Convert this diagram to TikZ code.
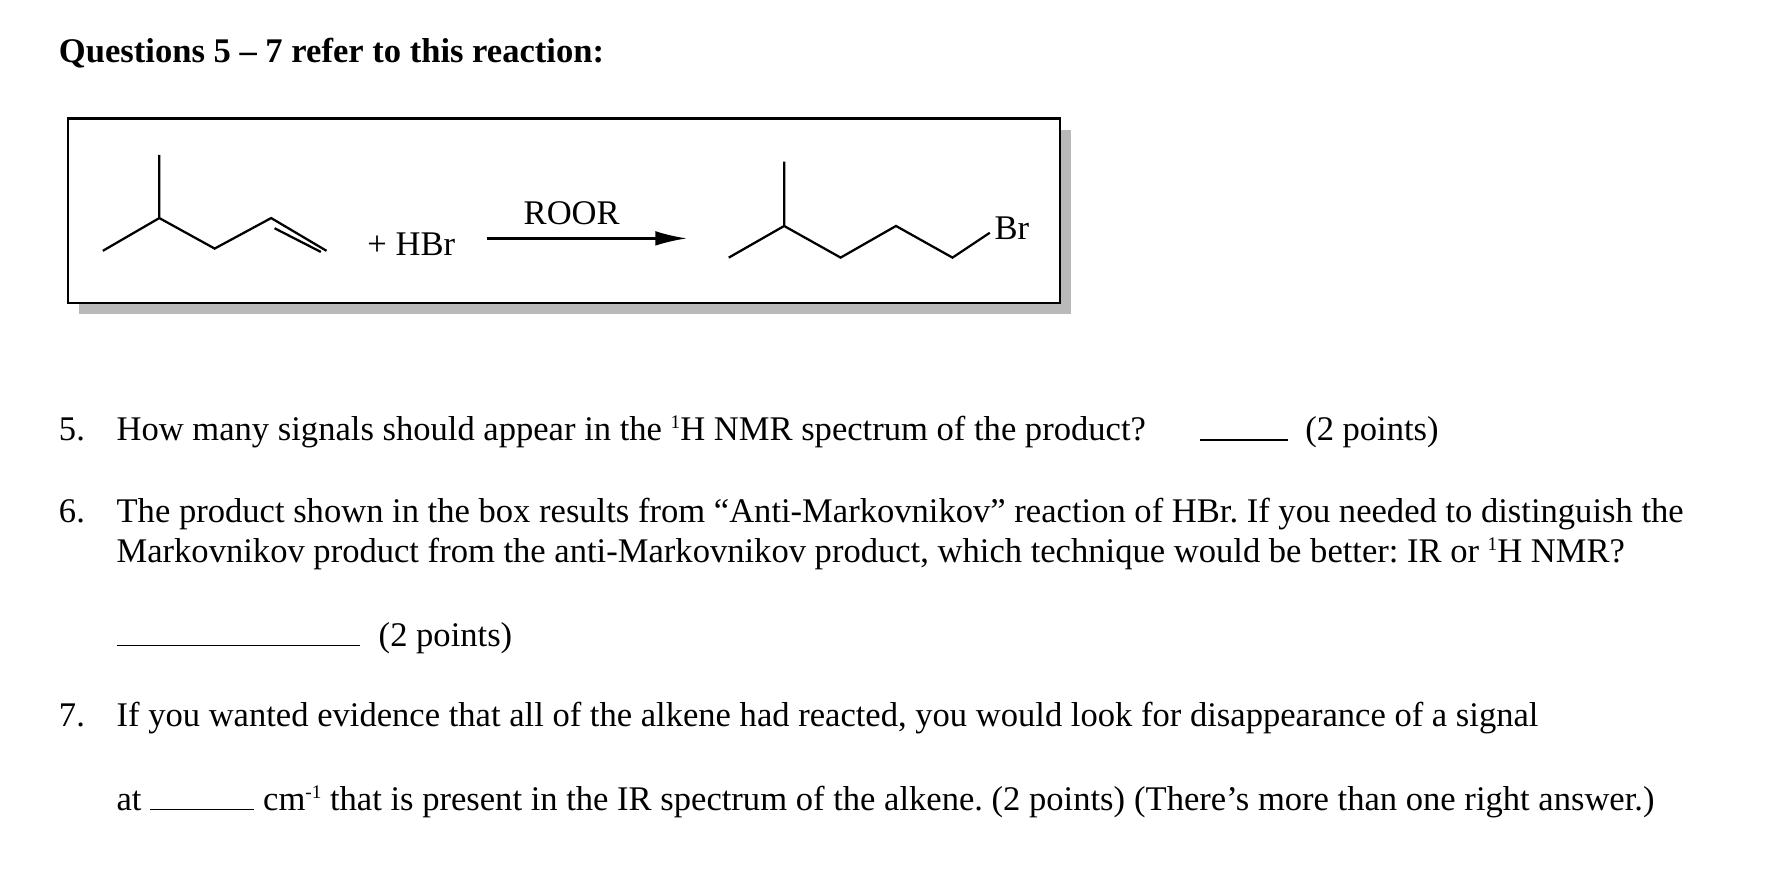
\documentclass[tikz,border=0pt]{standalone}
\usepackage{fontspec}
\setmainfont{Liberation Serif}
\usetikzlibrary{calc,arrows.meta}
\begin{document}
\frenchspacing
\begin{tikzpicture}[x=1pt,y=-1pt,
  txt/.style={anchor=base west,inner sep=0pt,font=\fontsize{30.6}{36}\selectfont},
  bond/.style={line width=2pt}]
\useasboundingbox (0,0) rectangle (1563,770);
\node[txt,font=\fontsize{30.6}{36}\selectfont\bfseries] (title) at (52,55) {Questions 5 -- 7 refer to this reaction:};
\fill[gray!55] (70,115) rectangle (948,278);
\draw[line width=2.2pt,fill=white] (60,105) rectangle (938,268);
% reactant
\coordinate (a1) at (91,222); \coordinate (a2) at (141,193); \coordinate (a3) at (141,137);
\coordinate (a4) at (190,220); \coordinate (a5) at (240,193); \coordinate (a6) at (289,222);
\draw[bond] (a1)--(a2)--(a3) (a2)--(a4)--(a5)--(a6);
\draw[bond] ($(a5)+(3,9)$) -- ($(a6)+(-5,1)$);
\node[txt] (hbr) at (325,226) {+ HBr};
\coordinate (ar1) at (431,211); \coordinate (ar2) at (608,211);
\draw[line width=2pt,-{Latex[length=28pt,width=13pt]}] (ar1)--(ar2);
\node[txt,anchor=base] (roor) at (506,199) {ROOR};
% product
\coordinate (b1) at (645,228); \coordinate (b2) at (694,200); \coordinate (b3) at (694,143);
\coordinate (b4) at (744,228); \coordinate (b5) at (793,200); \coordinate (b6) at (843,228);
\node[txt] (br) at (880,212) {Br};
\draw[bond] (b1)--(b2)--(b3) (b2)--(b4)--(b5)--(b6)--(876,206);
% questions
\newcommand{\mysup}[1]{\raisebox{0.75ex}{\fontsize{17}{20}\selectfont #1}}
\node[txt] (n5) at (52,390) {5.};
\node[txt] (q5) at (103,390) {How many signals should appear in the \mysup{1}H NMR spectrum of the product?};
\node[txt] (p5) at (1062,390) {\rule{78pt}{1.2pt}\hspace{15pt}(2 points)};
\node[txt] (n6) at (52,462) {6.};
\node[txt] (q6a) at (103,462) {The product shown in the box results from “Anti-Markovnikov” reaction of HBr. If you needed to distinguish the};
\node[txt] (q6b) at (103,498) {Markovnikov product from the anti-Markovnikov product, which technique would be better: IR or \mysup{1}H NMR?};
\node[txt] (p6) at (103,572) {\rule{215pt}{1.2pt}\hspace{17pt}(2 points)};
\node[txt] (n7) at (52,643) {7.};
\node[txt] (q7a) at (103,643) {If you wanted evidence that all of the alkene had reacted, you would look for disappearance of a signal};
\node[txt] (q7b) at (103,717) {at \rule{92pt}{1.2pt}\hspace{8pt}cm\mysup{-1} that is present in the IR spectrum of the alkene. (2 points)\hspace{8pt}(There’s more than one right answer.)};
\end{tikzpicture}
\end{document}
